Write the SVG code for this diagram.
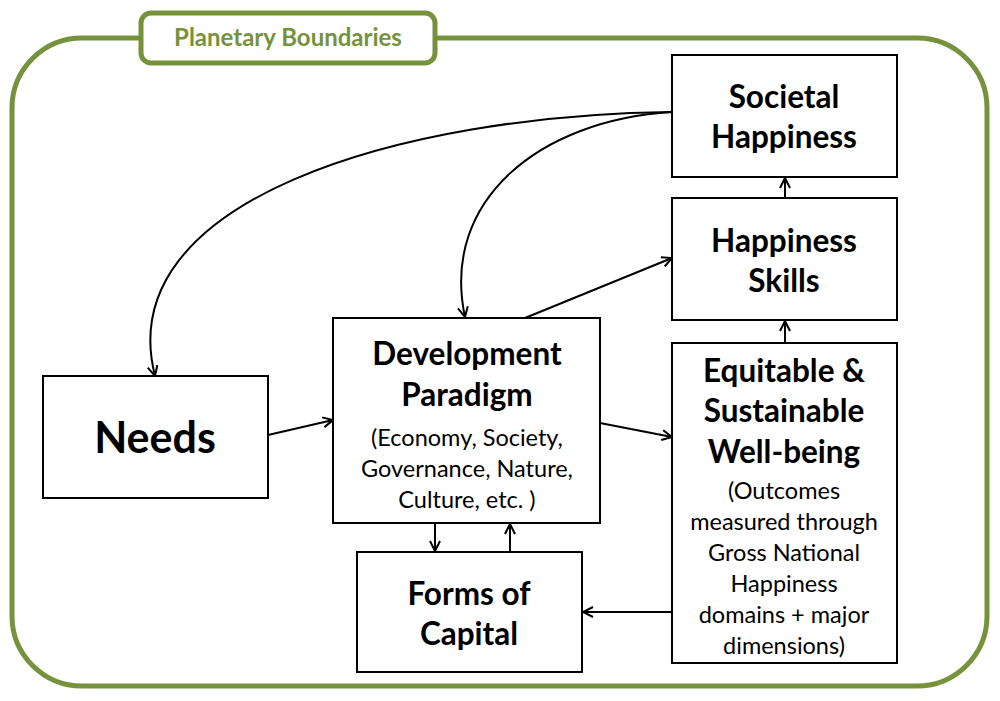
<svg xmlns="http://www.w3.org/2000/svg" width="1000" height="701" viewBox="0 0 1000 701">
<style>
.box{fill:#fff;stroke:#000;stroke-width:2}
.t{font-family:Lato,"Open Sans",sans-serif;font-weight:bold;font-size:31.5px;text-anchor:middle;fill:#000}
.s{font-family:Lato,"Open Sans",sans-serif;font-size:23.5px;text-anchor:middle;fill:#000}
.c{fill:none;stroke:#000;stroke-width:2;marker-end:url(#a)}
</style>
<defs><marker id="a" viewBox="0 0 12 12" refX="11" refY="6" markerWidth="12" markerHeight="12" markerUnits="userSpaceOnUse" orient="auto"><path d="M1,1 L11,6 L1,11" fill="none" stroke="#000" stroke-width="2"/></marker></defs>
<rect width="1000" height="701" fill="#fff"/>
<g id="boundary">
<rect x="12" y="38" width="975" height="648" rx="70" fill="none" stroke="#76923c" stroke-width="5"/>
<rect x="141" y="13" width="294" height="50" rx="10" fill="#fff" stroke="#76923c" stroke-width="5"/>
<text x="288" y="46" style="font-family:Lato,'Open Sans',sans-serif;font-weight:bold;font-size:24px;text-anchor:middle;fill:#76923c">Planetary Boundaries</text>
</g>
<g id="connectors">
<path class="c" d="M268,435 L333,420"/>
<path class="c" d="M600,423 L672,437"/>
<path class="c" d="M525,318 L672,258"/>
<path class="c" d="M785,343 L785,321"/>
<path class="c" d="M785,198 L785,178"/>
<path class="c" d="M672,112 C400,115 110,200 155,376"/>
<path class="c" d="M672,112 C540,120 440,200 465,317"/>
<path class="c" d="M435,523 L435,551"/>
<path class="c" d="M510,552 L510,524"/>
<path class="c" d="M672,612 L583,612"/>
</g>
<g id="societal"><rect class="box" x="672" y="55" width="225" height="122"/>
<text class="t" x="784" y="108">Societal</text><text class="t" x="784" y="148">Happiness</text></g>
<g id="skills"><rect class="box" x="672" y="198" width="225" height="122"/>
<text class="t" x="784" y="252">Happiness</text><text class="t" x="784" y="292">Skills</text></g>
<g id="equitable"><rect class="box" x="672" y="343" width="225" height="320"/>
<text class="t" x="784" y="382">Equitable &amp;</text><text class="t" x="784" y="422">Sustainable</text><text class="t" x="784" y="463">Well-being</text>
<text class="s" x="784" y="499">(Outcomes</text><text class="s" x="784" y="530">measured through</text><text class="s" x="784" y="561">Gross National</text><text class="s" x="784" y="592">Happiness</text><text class="s" x="784" y="623">domains + major</text><text class="s" x="784" y="654">dimensions)</text></g>
<g id="needs"><rect class="box" x="43" y="376" width="225" height="122"/>
<text class="t" x="155" y="453" style="font-size:43px">Needs</text></g>
<g id="development"><rect class="box" x="333" y="318" width="267" height="205"/>
<text class="t" x="467" y="365">Development</text><text class="t" x="467" y="406">Paradigm</text>
<text class="s" x="467" y="446">(Economy, Society,</text><text class="s" x="467" y="477">Governance, Nature,</text><text class="s" x="467" y="508">Culture, etc. )</text></g>
<g id="capital"><rect class="box" x="357" y="552" width="225" height="120"/>
<text class="t" x="469" y="605">Forms of</text><text class="t" x="469" y="645">Capital</text></g>
</svg>
